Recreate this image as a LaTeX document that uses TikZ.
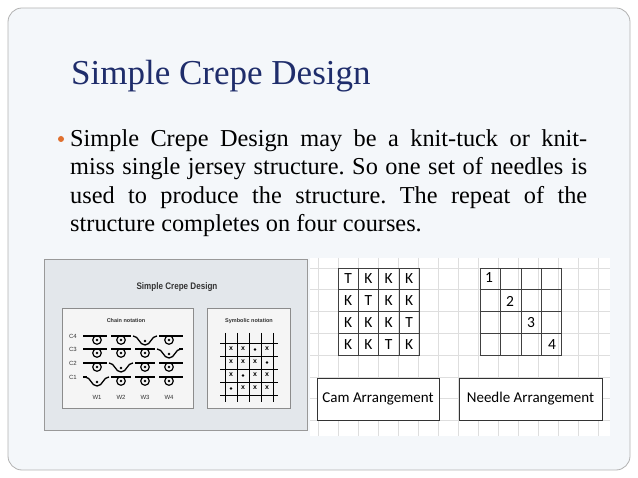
\documentclass[tikz,border=0pt]{standalone}
\usepackage{fontspec}
\setmainfont{Liberation Serif}
\setsansfont{Liberation Sans}
\newfontfamily\calib{Carlito}
\frenchspacing
\begin{document}
\begin{tikzpicture}[x=1pt,y=-1pt,
  cell/.style={draw=black!75,line width=0.8pt,minimum width=20.3pt,minimum height=21.8pt,inner sep=0pt,font=\calib\fontsize{15.5}{15}\selectfont},
  lbl/.style={draw=black!80,line width=0.8pt,fill=white,inner sep=0pt,font=\calib\fontsize{15}{15}\selectfont},
  num/.style={font=\calib\fontsize{15.5}{15}\selectfont},
  panel/.style={draw=black!45,line width=1pt,fill=black!4},
  chain/.style={line width=1.3pt},
  small/.style={font=\sffamily\bfseries\fontsize{5.5}{6}\selectfont,text=black!80}]
\useasboundingbox (0,0) rectangle (638,478);
\definecolor{ttl}{HTML}{1F2D6B}
\definecolor{bul}{HTML}{E0702E}
\definecolor{bg}{HTML}{F4F7FA}
\definecolor{pbg}{HTML}{E3E7EB}
\draw[draw=black!30,fill=bg,rounded corners=14pt,line width=0.8pt] (8,8) rectangle (630,470);
\node[anchor=base west,inner sep=0pt,text=ttl,font=\fontsize{35}{35}\selectfont] (title) at (71,85) {Simple Crepe Design};
\fill[bul] (61,139) circle (3pt);
\node[anchor=north west,inner sep=0pt,text width=517pt,align=justify,font=\fontsize{24.3}{28.6}\selectfont] (body) at (70,129)
 {Simple Crepe Design may be a knit-tuck or knit-\linebreak miss single jersey structure. So one set of needles is\linebreak used to produce the structure. The repeat of the\linebreak structure completes on four courses.};
% left picture
\draw[draw=black!40,fill=pbg,line width=0.8pt] (44,259) rectangle (307,430);
\node[font=\sffamily\bfseries\fontsize{9.5}{10}\selectfont,text=black!80,xscale=0.85] (lt) at (177,287) {Simple Crepe Design};
\draw[panel] (62,309) rectangle (193,409);
\draw[panel] (207,309) rectangle (290,409);
\node[small] (cn) at (126,321) {Chain notation};
\node[small] (sn) at (249,321) {Symbolic notation};
\foreach \l/\y/\p in {C4/336/{0,0,1,0},C3/349/{0,0,0,1},C2/363/{0,1,0,0},C1/377/{1,0,0,0}}{
  \node[small,font=\sffamily\fontsize{6}{6}\selectfont] at (73,\y) {\l};
  \foreach \t [count=\i] in \p {
    \pgfmathsetmacro\xx{73+24*\i}
    \ifnum\t=0
      \draw[chain] (\xx-10,\y) -- (\xx+10,\y);
      \draw[line width=1.2pt] (\xx,\y+4) circle (4.3pt);
      \fill (\xx,\y+4) circle (1.3pt);
    \else
      \draw[chain] (\xx-12,\y) .. controls (\xx-6,\y) and (\xx-6,\y+9) .. (\xx,\y+9) .. controls (\xx+6,\y+9) and (\xx+6,\y) .. (\xx+12,\y);
      \fill (\xx,\y+5) circle (1.3pt);
    \fi
  }
  \draw[chain] (83,\y) -- (87,\y);
  \draw[chain] (179,\y) -- (183,\y);
}
\foreach \w [count=\i] in {W1,W2,W3,W4}
  \node[small,font=\sffamily\fontsize{6}{6}\selectfont] at (73+24*\i,397) {\w};
\foreach \x in {225,237,249,261,273} \draw[line width=0.7pt] (\x,333) -- (\x,402);
\foreach \y in {343,356,369,382,395} \draw[line width=0.7pt] (220,\y) -- (278,\y);
\foreach \row [count=\r] in {{x,x,o,x},{x,x,x,o},{x,o,x,x},{o,x,x,x}}
  \foreach \s [count=\c] in \row {
    \pgfmathsetmacro\cx{219+12*\c}
    \pgfmathsetmacro\cy{336.5+13*\r}
    \if\s o \fill (\cx,\cy) circle (1.3pt);
    \else \node[font=\sffamily\bfseries\fontsize{7}{7}\selectfont,inner sep=0pt] at (\cx,\cy-0.5) {x};\fi
  }
% right picture
\fill[white] (310,258) rectangle (610,436);
\begin{scope}
\clip (310,258) rectangle (610,436);
\foreach \k in {0,...,14} \draw[black!13,line width=0.7pt] (318+20*\k,258) -- (318+20*\k,436);
\foreach \k in {-1,...,7} \draw[black!13,line width=0.7pt] (310,268+21.8*\k) -- (610,268+21.8*\k);
\end{scope}
\foreach \row [count=\r] in {{T,K,K,K},{K,T,K,K},{K,K,K,T},{K,K,T,K}}
  \foreach \s [count=\c] in \row
    \node[cell] (cam\r\c) at (327.85+20.3*\c,257.1+21.8*\r) {\s};
\foreach \r in {1,...,4}
  \foreach \c in {1,...,4}
    \node[cell] (nd\r\c) at (470.15+20.3*\c,257.1+21.8*\r) {};
\node[num] at (489,278) {1};
\node[num] at (510,301) {2};
\node[num] at (531,323) {3};
\node[num] at (552,345) {4};
\node[lbl,minimum width=122pt,minimum height=42pt] (cam) at (378,399) {Cam Arrangement};
\node[lbl,minimum width=143pt,minimum height=42pt] (ndl) at (530.5,399) {Needle Arrangement};
\end{tikzpicture}
\end{document}
